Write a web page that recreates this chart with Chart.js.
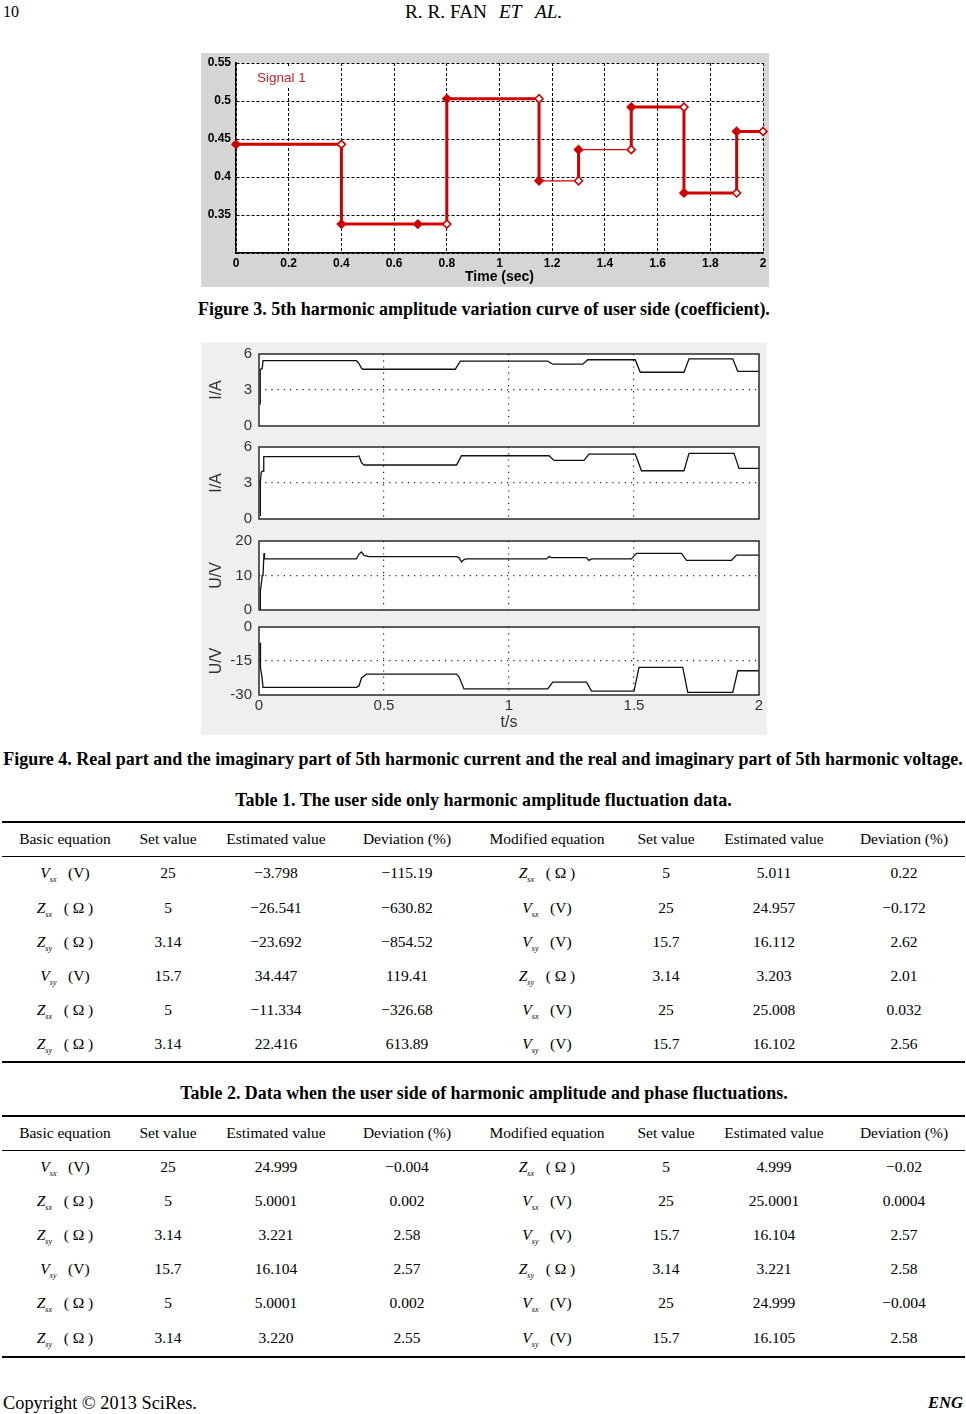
<!DOCTYPE html>
<html><head><meta charset="utf-8">
<script src="https://cdn.jsdelivr.net/npm/chart.js@4.4.0/dist/chart.umd.min.js"></script>
<style>
html,body{margin:0;padding:0;background:#fff;}
body{width:966px;height:1414px;position:relative;overflow:hidden;font-family:"Liberation Serif","Times New Roman",serif;color:#000;}
.t{position:absolute;white-space:nowrap;line-height:1;}
.box{position:absolute;}
canvas{position:absolute;display:block;}
.rule{position:absolute;background:#000;left:2px;width:963px;}
sub{font-size:8px;font-style:italic;vertical-align:-4px;line-height:0;}
</style></head><body>

<div class="box" id="fig3box" style="left:201px;top:53px;width:568px;height:234px;background:#d5d5d5;"></div>
<canvas id="fig3" width="568" height="234" style="left:201px;top:53px;width:568px;height:234px;"></canvas>

<div class="box" id="fig4box" style="left:201px;top:342px;width:566px;height:393px;background:#efefef;"></div>
<canvas id="p1" width="566" height="95" style="left:201px;top:342px;width:566px;height:95px;"></canvas>
<canvas id="p2" width="566" height="93" style="left:201px;top:437px;width:566px;height:93px;"></canvas>
<canvas id="p3" width="566" height="88" style="left:201px;top:530px;width:566px;height:88px;"></canvas>
<canvas id="p4" width="566" height="117" style="left:201px;top:618px;width:566px;height:117px;"></canvas>

<script>
// ---------------- DATA ----------------
// Figure 3: step signal (segments)
const fig3SegmentStarts = [0, 0.4, 0.8, 1.15, 1.3, 1.5, 1.7, 1.9];
const fig3SegmentEnds   = [0.4, 0.8, 1.15, 1.3, 1.5, 1.7, 1.9, 2.0];
const fig3SegmentValues = [0.443, 0.338, 0.503, 0.395, 0.436, 0.492, 0.379, 0.460];
const fig3ExtraMarkerTimes = [0.69];
const fig3XTicks = [0, 0.2, 0.4, 0.6, 0.8, 1, 1.2, 1.4, 1.6, 1.8, 2];
const fig3XTickLabels = ['0','0.2','0.4','0.6','0.8','1','1.2','1.4','1.6','1.8','2'];
const fig3YTicks = [0.3, 0.35, 0.4, 0.45, 0.5, 0.55];
const fig3YTickLabels = ['', '0.35', '0.4', '0.45', '0.5', '0.55'];

// Figure 4 panels
const fig4XTicks = [0, 0.5, 1, 1.5, 2];
const fig4XTickLabels = ['0', '0.5', '1', '1.5', '2'];
const fig4Times1 = [0.005,0.005,0.013,0.015,0.016,0.39,0.40,0.41,0.415,0.785,0.805,1.155,1.175,1.295,1.315,1.505,1.525,1.70,1.72,1.895,1.915,2.0];
const fig4Values1 = [1.8,4.7,4.8,4.8,5.44,5.44,5.2,4.8,4.73,4.73,5.41,5.41,5.15,5.15,5.52,5.52,4.48,4.48,5.6,5.6,4.56,4.56];
const fig4Times2 = [0.004,0.004,0.007,0.009,0.016,0.019,0.39,0.40,0.41,0.42,0.79,0.81,1.16,1.18,1.30,1.32,1.505,1.53,1.70,1.72,1.90,1.92,2.0];
const fig4Values2 = [0.3,3.0,3.1,3.9,4.0,5.19,5.19,5.25,4.7,4.5,4.5,5.27,5.27,4.88,4.88,5.41,5.41,4.02,4.02,5.47,5.47,4.22,4.22];
const fig4Times3 = [0.004,0.004,0.007,0.010,0.013,0.016,0.02,0.022,0.39,0.40,0.41,0.42,0.44,0.79,0.80,0.81,0.82,0.83,1.15,1.16,1.17,1.31,1.32,1.33,1.49,1.51,1.69,1.71,1.89,1.91,2.0];
const fig4Values3 = [0,6,5.5,8,10,10,16.5,14.8,14.8,16.2,16.8,15.8,15.5,15.5,15.2,13.9,14.6,14.8,14.8,15.5,15.2,15.2,14.4,14.8,14.8,16.4,16.4,14.4,14.4,15.9,15.9];
const fig4Times4 = [0.004,0.006,0.009,0.012,0.016,0.39,0.40,0.41,0.43,0.79,0.80,0.82,1.155,1.175,1.31,1.33,1.50,1.52,1.695,1.715,1.895,1.915,2.0];
const fig4Values4 = [-7,-18,-20,-22,-26.6,-26.6,-26.0,-22.5,-20.8,-20.8,-22,-27.3,-27.3,-24.3,-24.3,-28.3,-28.3,-17.8,-17.8,-28.8,-28.8,-19.3,-19.3];
const fig4YTicks1 = [0, 3, 6];
const fig4YTicks2 = [0, 3, 6];
const fig4YTicks3 = [0, 10, 20];
const fig4YTicks4 = [-30, -15, 0];
const fig4YTitles = ['I/A', 'I/A', 'U/V', 'U/V'];

// Tables
const tableHeaders = ['Basic equation','Set value','Estimated value','Deviation (%)','Modified equation','Set value','Estimated value','Deviation (%)'];
const basicVars = [['V','sx','(V)'],['Z','sx','( Ω )'],['Z','sy','( Ω )'],['V','sy','(V)'],['Z','sx','( Ω )'],['Z','sy','( Ω )']];
const modVars   = [['Z','sx','( Ω )'],['V','sx','(V)'],['V','sy','(V)'],['Z','sy','( Ω )'],['V','sx','(V)'],['V','sy','(V)']];
const basicSet = ['25','5','3.14','15.7','5','3.14'];
const modSet   = ['5','25','15.7','3.14','25','15.7'];
const t1BasicEst = ['−3.798','−26.541','−23.692','34.447','−11.334','22.416'];
const t1BasicDev = ['−115.19','−630.82','−854.52','119.41','−326.68','613.89'];
const t1ModEst = ['5.011','24.957','16.112','3.203','25.008','16.102'];
const t1ModDev = ['0.22','−0.172','2.62','2.01','0.032','2.56'];
const t2BasicEst = ['24.999','5.0001','3.221','16.104','5.0001','3.220'];
const t2BasicDev = ['−0.004','0.002','2.58','2.57','0.002','2.55'];
const t2ModEst = ['4.999','25.0001','16.104','3.221','24.999','16.105'];
const t2ModDev = ['−0.02','0.0004','2.57','2.58','−0.004','2.58'];

// ---------------- TEXT HELPERS ----------------
function txt(html, o) {
  const d = document.createElement('div');
  d.className = 't';
  d.innerHTML = html;
  d.style.fontSize = o.size + 'px';
  if (o.bold) d.style.fontWeight = 'bold';
  if (o.italic) d.style.fontStyle = 'italic';
  if (o.family) d.style.fontFamily = o.family;
  document.body.appendChild(d);
  if (o.fit) {
    const w0 = d.getBoundingClientRect().width;
    d.style.fontSize = (o.size * (o.x1 - o.x0) / w0) + 'px';
  }
  const r = d.getBoundingClientRect();
  let left;
  if (o.x0 !== undefined) left = (o.x0 + o.x1) / 2 - r.width / 2;
  else if (o.cx !== undefined) left = o.cx - r.width / 2;
  else left = o.x;
  d.style.left = left + 'px';
  d.style.top = (o.cy - r.height / 2) + 'px';
  return d;
}
function rule(y, h) {
  const d = document.createElement('div');
  d.className = 'rule';
  d.style.top = y + 'px';
  d.style.height = h + 'px';
  document.body.appendChild(d);
}

// Page header / footer
txt('10', {size: 15, x0: 3, x1: 19, cy: 12, fit: true});
const hdr = txt('R. R. FAN', {size: 15, x0: 405, x1: 487, cy: 12, fit: true});
const hdrSize = parseFloat(hdr.style.fontSize);
txt('ET', {size: hdrSize, italic: true, x: 499, cy: 12});
txt('AL.', {size: hdrSize, italic: true, x: 535, cy: 12});
txt('Copyright © 2013 SciRes.', {size: 15, x0: 3, x1: 197, cy: 1403, fit: true});
txt('ENG', {size: 15, bold: true, italic: true, x0: 928, x1: 963, cy: 1403, fit: true});

// Captions
txt('Figure 3. 5th harmonic amplitude variation curve of user side (coefficient).', {size: 15, bold: true, x0: 198, x1: 770, cy: 309, fit: true});
txt('Figure 4. Real part and the imaginary part of 5th harmonic current and the real and imaginary part of 5th harmonic voltage.', {size: 15, bold: true, x0: 3, x1: 963, cy: 759, fit: true});
txt('Table 1. The user side only harmonic amplitude fluctuation data.', {size: 15, bold: true, x0: 235, x1: 732, cy: 800, fit: true});
txt('Table 2. Data when the user side of harmonic amplitude and phase fluctuations.', {size: 15, bold: true, x0: 180, x1: 788, cy: 1094, fit: true});

// Tables
const colCenters = [65, 168, 276, 407, 547, 666, 774, 904];
function varHtml(v) {
  return '<i>' + v[0] + '</i><sub>' + v[1] + '</sub>&nbsp;&nbsp;&nbsp;' + v[2];
}
function buildTable(top, headerY, hRule, rowYs, bottom, cols) {
  rule(top, 1.6);
  rule(hRule, 1);
  rule(bottom, 1.6);
  tableHeaders.forEach((h, i) => txt(h, {size: 15.5, cx: colCenters[i], cy: headerY}));
  rowYs.forEach((y, r) => {
    cols.forEach((col, c) => {
      const v = col[r];
      const html = Array.isArray(v) ? varHtml(v) : v;
      txt(html, {size: 15.5, cx: colCenters[c], cy: y});
    });
  });
}
buildTable(821, 839, 856, [873, 908, 942, 976, 1010, 1044], 1061,
  [basicVars, basicSet, t1BasicEst, t1BasicDev, modVars, modSet, t1ModEst, t1ModDev]);
buildTable(1115, 1133, 1150, [1167, 1201, 1235, 1269, 1303, 1338], 1356,
  [basicVars, basicSet, t2BasicEst, t2BasicDev, modVars, modSet, t2ModEst, t2ModDev]);

// ---------------- CHARTS ----------------
Chart.defaults.animation = false;
Chart.defaults.responsive = false;
Chart.defaults.devicePixelRatio = 1;

const whiteArea = {
  id: 'whiteArea',
  beforeDraw(chart) {
    const a = chart.chartArea, c = chart.ctx;
    c.save(); c.fillStyle = '#fff'; c.fillRect(a.left, a.top, a.right - a.left, a.bottom - a.top); c.restore();
  }
};
function zeroPad(s) { s.paddingTop = 0; s.paddingBottom = 0; s.paddingLeft = 0; s.paddingRight = 0; }

// Figure 3
const RED = '#d10000';
const fig3Points = [];
fig3SegmentValues.forEach((v, i) => {
  fig3Points.push({x: fig3SegmentStarts[i], y: v, filled: true});
  fig3ExtraMarkerTimes.forEach(t => {
    if (t > fig3SegmentStarts[i] && t < fig3SegmentEnds[i]) fig3Points.push({x: t, y: v, filled: true});
  });
  fig3Points.push({x: fig3SegmentEnds[i], y: v, filled: false});
});

const signalLabel = {
  id: 'signalLabel',
  beforeDatasetsDraw(chart) {
    const a = chart.chartArea, c = chart.ctx;
    c.save();
    c.fillStyle = '#fff';
    c.fillRect(a.left + 14, a.top + 5, 64, 19);
    c.fillStyle = '#c8202c';
    c.font = '13.5px "Liberation Sans", Arial, sans-serif';
    c.textBaseline = 'middle';
    c.fillText('Signal 1', a.left + 21, a.top + 15);
    c.restore();
  }
};

new Chart(document.getElementById('fig3'), {
  type: 'line',
  data: {datasets: [{
    data: fig3Points,
    borderColor: RED,
    borderWidth: 3,
    tension: 0,
    clip: false,
    pointStyle: 'rectRot',
    pointRadius: 4,
    pointBorderWidth: 1.6,
    pointBorderColor: RED,
    pointBackgroundColor: c => (c.raw && c.raw.filled) ? RED : '#fff',
    segment: {
      borderWidth: c => (c.p0.parsed.y === c.p1.parsed.y && c.p0.parsed.x >= 1.15 && c.p1.parsed.x <= 1.5) ? 1.3 : 3
    }
  }]},
  options: {
    layout: {padding: {left: 0, right: 6, top: 10, bottom: 0}},
    plugins: {legend: {display: false}, tooltip: {enabled: false}},
    scales: {
      x: {
        type: 'linear', min: 0, max: 2,
        afterBuildTicks: s => { s.ticks = fig3XTicks.map(v => ({value: v})); },
        afterFit: s => { s.height = 34; zeroPad(s); },
        ticks: {
          color: '#000', padding: 3, maxRotation: 0, autoSkip: false,
          font: {family: '"Liberation Sans", Arial, sans-serif', size: 12, weight: 'bold'},
          callback: (v, i) => fig3XTickLabels[i]
        },
        grid: {color: '#000', lineWidth: 1, drawTicks: false},
        border: {display: true, color: '#000', width: 1.5, dash: [3, 2]},
        title: {display: true, text: 'Time (sec)', color: '#000', padding: {top: 0, bottom: 1},
          font: {family: '"Liberation Sans", Arial, sans-serif', size: 14, weight: 'bold'}}
      },
      y: {
        type: 'linear', min: 0.3, max: 0.55,
        afterBuildTicks: s => { s.ticks = fig3YTicks.map(v => ({value: v})); },
        afterFit: s => { s.width = 35; zeroPad(s); },
        ticks: {
          color: '#000', padding: 5, autoSkip: false,
          font: {family: '"Liberation Sans", Arial, sans-serif', size: 12, weight: 'bold'},
          callback: (v, i) => fig3YTickLabels[i]
        },
        grid: {color: '#000', lineWidth: 1, drawTicks: false},
        border: {display: true, color: '#000', width: 1.5, dash: [3, 2]}
      }
    }
  },
  plugins: [whiteArea, signalLabel]
});

// Figure 4
const frame = {
  id: 'frame',
  afterDraw(chart) {
    const a = chart.chartArea, c = chart.ctx;
    c.save(); c.strokeStyle = '#2a2a2a'; c.lineWidth = 1.5;
    c.strokeRect(a.left, a.top, a.right - a.left, a.bottom - a.top);
    c.restore();
  }
};
const sansFont = '"Liberation Sans", Arial, sans-serif';
function panel(id, times, values, yTicks, yTitle, padTop, padBottom, isLast) {
  const pts = times.map((t, i) => ({x: t, y: values[i]}));
  const yMin = yTicks[0], yMax = yTicks[yTicks.length - 1];
  new Chart(document.getElementById(id), {
    type: 'line',
    data: {datasets: [{data: pts, borderColor: '#111', borderWidth: 1.3, pointRadius: 0, tension: 0}]},
    options: {
      layout: {padding: {left: 0, right: 8, top: padTop, bottom: padBottom}},
      plugins: {legend: {display: false}, tooltip: {enabled: false}},
      scales: {
        x: {
          type: 'linear', min: 0, max: 2,
          afterBuildTicks: s => { s.ticks = fig4XTicks.map(v => ({value: v})); },
          afterFit: s => { s.height = isLast ? 40 : 0; zeroPad(s); },
          ticks: {display: isLast, color: '#333', padding: 2, maxRotation: 0, autoSkip: false,
            font: {family: sansFont, size: 15}, callback: (v, i) => fig4XTickLabels[i]},
          grid: {drawTicks: false, lineWidth: 1.2,
            color: c => (c.tick && (c.tick.value === 0 || c.tick.value === 2)) ? 'rgba(0,0,0,0)' : '#222'},
          border: {display: false, dash: [1.2, 5]},
          title: {display: isLast, text: 't/s', color: '#333', padding: {top: 0, bottom: 3},
            font: {family: sansFont, size: 16}}
        },
        y: {
          type: 'linear', min: yMin, max: yMax,
          afterBuildTicks: s => { s.ticks = yTicks.map(v => ({value: v})); },
          afterFit: s => { s.width = 58; zeroPad(s); },
          ticks: {color: '#333', padding: 7, autoSkip: false, font: {family: sansFont, size: 15},
            callback: v => String(v)},
          grid: {drawTicks: false, lineWidth: 1.2,
            color: c => (c.tick && (c.tick.value === yMin || c.tick.value === yMax)) ? 'rgba(0,0,0,0)' : '#222'},
          border: {display: false, dash: [1.2, 5]},
          title: {display: true, text: yTitle, color: '#333', padding: {top: 6, bottom: 0},
            font: {family: sansFont, size: 16}}
        }
      }
    },
    plugins: [whiteArea, frame]
  });
}
panel('p1', fig4Times1, fig4Values1, fig4YTicks1, fig4YTitles[0], 12, 11, false);
panel('p2', fig4Times2, fig4Values2, fig4YTicks2, fig4YTitles[1], 10, 11, false);
panel('p3', fig4Times3, fig4Values3, fig4YTicks3, fig4YTitles[2], 11, 8, false);
panel('p4', fig4Times4, fig4Values4, fig4YTicks4, fig4YTitles[3], 9, 0, true);
</script>
</body></html>
